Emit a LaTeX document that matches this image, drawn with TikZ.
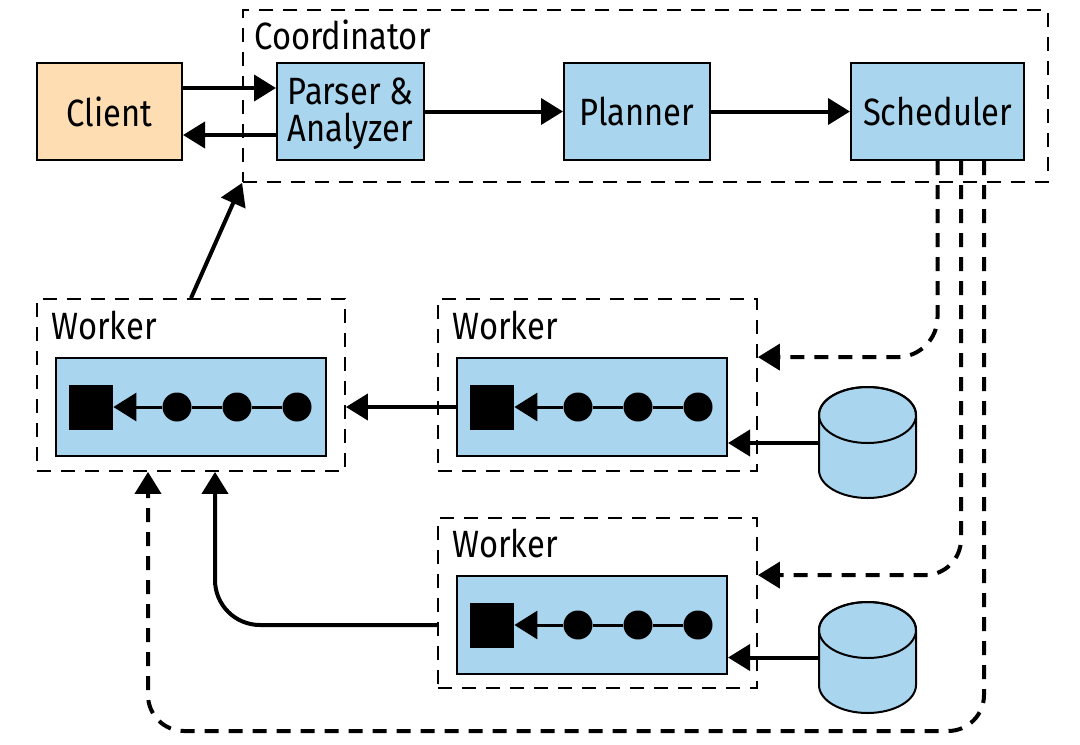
\documentclass[tikz,border=0pt]{standalone}
\usepackage{fontspec}
\setmainfont{Fira Sans}[FakeStretch=0.86]
\usetikzlibrary{arrows.meta,fit}
\definecolor{cblue}{RGB}{169,213,238}
\definecolor{corange}{RGB}{253,221,177}
\newcommand\dbcyl[3]{%
  \filldraw[fill=cblue, line width=1pt] (#1-48.5,#2+28) -- (#1-48.5,#3-28)
    arc[start angle=180,end angle=360,x radius=24.25pt,y radius=14pt]
    -- (#1+48.5,#2+28)
    arc[start angle=0,end angle=180,x radius=24.25pt,y radius=14pt] -- cycle;
  \draw[line width=1pt] (#1,#2+28) ellipse[x radius=24.25pt,y radius=14pt];
}
\tikzset{
  box/.style={draw=black, line width=1pt, inner sep=0pt},
  bluebox/.style={box, fill=cblue},
  txt/.style={inner sep=0pt, font=\fontsize{19}{18.5}\selectfont, align=center},
  dbox/.style={draw=black, line width=0.9pt, dash pattern=on 7pt off 5pt, inner sep=0pt},
  lbl/.style={anchor=base west, inner sep=0pt, font=\fontsize{19}{19}\selectfont},
  arr/.style={line width=2pt, -{Triangle[length=11pt,width=13pt]}},
  darr/.style={line width=2pt, dash pattern=on 7pt off 5pt, -{Triangle[length=11pt,width=13pt]}},
  sqr/.style={rectangle, fill=black, minimum width=22pt, minimum height=22.5pt, inner sep=0pt},
  dot/.style={circle, fill=black, minimum size=14.5pt, inner sep=0pt},
  pline/.style={line width=1.5pt},
  pics/pipeline/.style={code={
    \node[sqr] (-sq) at (-100,0) {};
    \node[dot] (-c1) at (-14,0) {};
    \node[dot] (-c2) at (46,0) {};
    \node[dot] (-c3) at (106,0) {};
    \draw[pline] (-c3) -- (-c2) -- (-c1);
    \draw[pline, -{Triangle[length=11.5pt,width=14pt]}] (-c1) -- (-sq);
  }}
}
\begin{document}
\begin{tikzpicture}[x=0.5pt,y=-0.5pt]
\useasboundingbox (0,0) rectangle (1080,744);
% dashed containers
\node[dbox, fit={(243,10)(1048,182)}] (coord) {};
\node[lbl] (coordl) at ([xshift=6pt,yshift=-20pt]coord.north west) {Coordinator};
\node[dbox, fit={(37,299)(345,471)}] (wk1) {};
\node[dbox, fit={(438,299)(757,471)}] (wk2) {};
\node[dbox, fit={(438,518)(757,688)}] (wk3) {};
\node[lbl] (wk1l) at ([xshift=7.5pt,yshift=-20.5pt]wk1.north west) {Worker};
\node[lbl] (wk2l) at ([xshift=7.5pt,yshift=-20.5pt]wk2.north west) {Worker};
\node[lbl] (wk3l) at ([xshift=7.5pt,yshift=-20pt]wk3.north west) {Worker};
% top boxes
\node[box, fill=corange, fit={(37,63)(182,160)}] (client) {};
\node[bluebox, fit={(277,63)(424,160)}] (parser) {};
\node[bluebox, fit={(564,63)(710,160)}] (planner) {};
\node[bluebox, fit={(851,63)(1024,160)}] (sched) {};
\node[txt] (clientt) at (client) {Client};
\node[txt] (parsert) at ([yshift=-1pt]parser) {Parser \&\\Analyzer};
\node[txt] (plannert) at (planner) {Planner};
\node[txt] (schedt) at (sched) {Scheduler};
% inner worker boxes
\node[bluebox, fit={(56,358)(326,456)}] (in1) {};
\node[bluebox, fit={(457,358)(727,456)}] (in2) {};
\node[bluebox, fit={(457,576)(727,674)}] (in3) {};
\pic (p1) at (in1) {pipeline};
\pic (p2) at (in2) {pipeline};
\pic (p3) at (in3) {pipeline};
% cylinders
\dbcyl{867.5}{387}{498}
\dbcyl{867.5}{602}{713}
\node[inner sep=0pt, fit={(819,388)(916,498)}] (cyl2) {};
\node[inner sep=0pt, fit={(819,602)(916,713)}] (cyl3) {};
% solid connectors
\draw[arr] ([yshift=11.75pt]client.east) -- ([yshift=11.75pt]parser.west);
\draw[arr] ([yshift=-11.75pt]parser.west) -- ([yshift=-11.75pt]client.east);
\draw[arr] (parser.east) -- (planner.west);
\draw[arr] (planner.east) -- (sched.west);
\draw[arr] (wk1.north) -- (coord.south west);
\draw[arr] (in2.west) -- (in2.west -| wk1.east);
\draw[arr] (cyl2.west) -- (cyl2.west -| in2.east);
\draw[arr] (cyl3.west) -- (cyl3.west -| in3.east);
\coordinate (w3o) at ([yshift=-11pt]wk3.west);
\coordinate (w1s) at ([xshift=12pt]wk1.south);
\draw[arr, rounded corners=22.5pt] (w3o) -| (w1s);
% dashed connectors
\coordinate (s1) at (sched.south);
\coordinate (s2) at ([xshift=11.75pt]sched.south);
\coordinate (s3) at ([xshift=23.25pt]sched.south);
\coordinate (t2) at ([yshift=-29.5pt]wk2.north east);
\coordinate (t3) at ([yshift=-29pt]wk3.north east);
\coordinate (w1d) at ([xshift=-21.5pt]wk1.south);
\coordinate (bot) at (0,731);
\draw[darr, rounded corners=20pt] (s1) |- (t2);
\draw[darr, rounded corners=18pt] (s2) |- (t3);
\draw[darr, rounded corners=18pt] (s3) -- (s3 |- bot) -- (w1d |- bot) -- (w1d);
\end{tikzpicture}
\end{document}
